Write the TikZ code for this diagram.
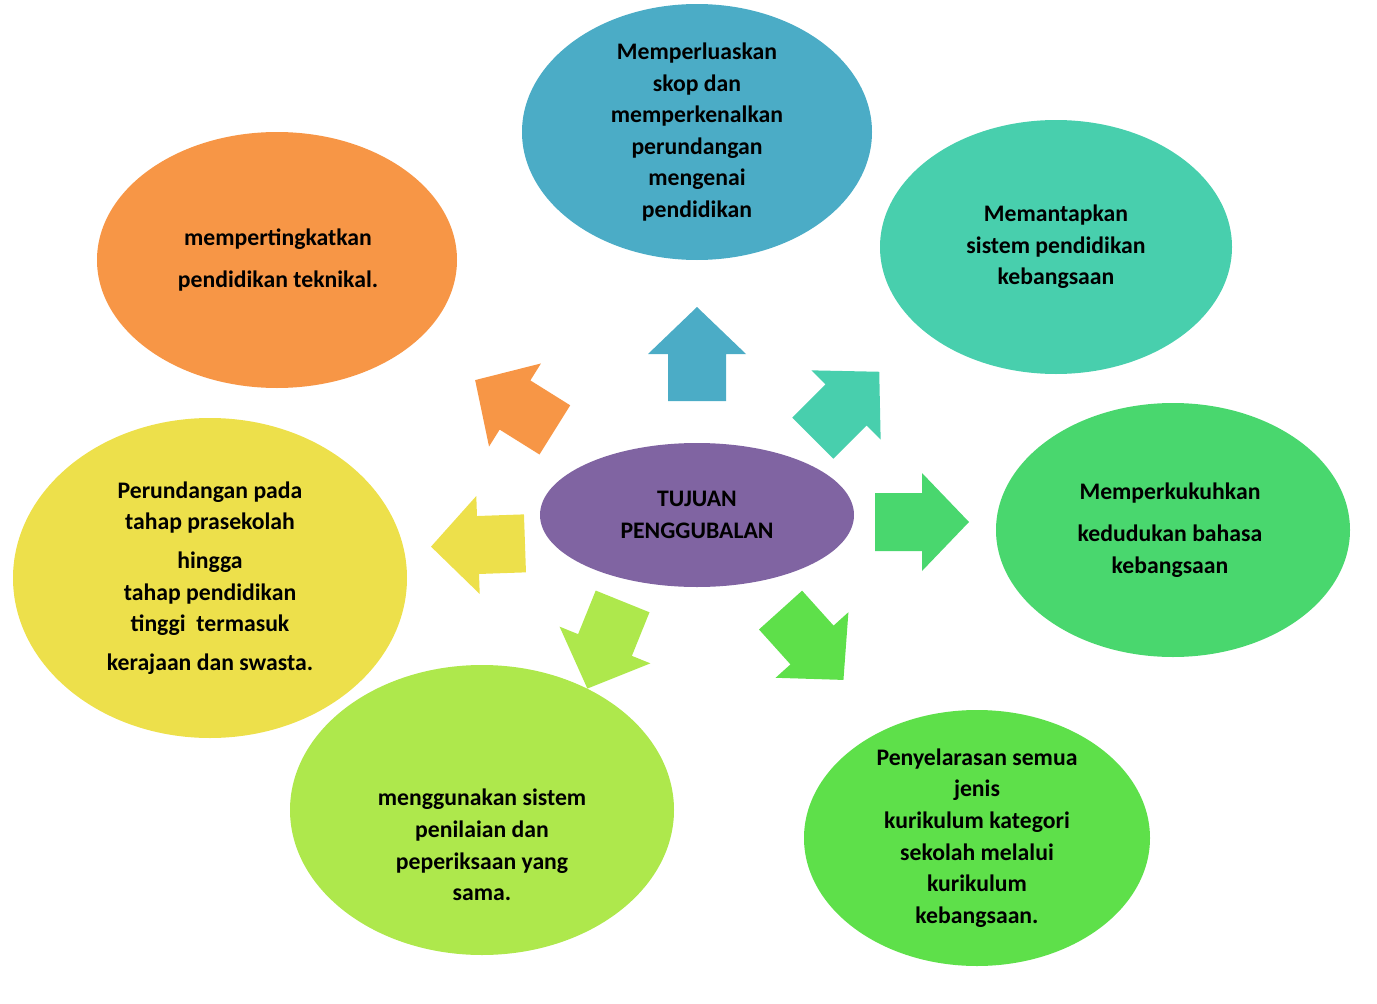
\documentclass[tikz,border=0pt]{standalone}
\usepackage{fontspec}
\setmainfont{Carlito}
\begin{document}
\begin{tikzpicture}[x=0.02cm,y=0.02cm,
 ell/.style={ellipse,draw=none},
 txt/.style={align=center,font=\bfseries\fontsize{13.5}{18}\selectfont,text=black}]
\useasboundingbox (0,0) rectangle (1377,-1004);
\definecolor{cblue}{HTML}{4BACC6}
\definecolor{corange}{HTML}{F79646}
\definecolor{cteal}{HTML}{48CFAD}
\definecolor{cgreen}{HTML}{49D76E}
\definecolor{cyellow}{HTML}{EDE04B}
\definecolor{clime}{HTML}{AEE84C}
\definecolor{cgreen2}{HTML}{5EE04A}
\definecolor{cpurple}{HTML}{8064A2}
\newcommand{\blockarrow}[4]{\begin{scope}[shift={(#1,#2)},rotate=#3]
 \fill[#4] (-47,-29) -- (0,-29) -- (0,-49) -- (47,0) -- (0,49) -- (0,29) -- (-47,29) -- cycle;
\end{scope}}
\fill[cblue] (697,-132) ellipse [x radius=175,y radius=128];
\fill[corange] (277,-260) ellipse [x radius=180,y radius=128];
\fill[cteal] (1056,-247) ellipse [x radius=176,y radius=127];
\fill[cgreen] (1173,-530) ellipse [x radius=177,y radius=127];
\fill[cyellow] (210,-578) ellipse [x radius=197,y radius=160];
\fill[clime] (482,-810) ellipse [x radius=192,y radius=145];
\fill[cgreen2] (977,-838) ellipse [x radius=173,y radius=128];
\fill[cpurple] (697,-515) ellipse [x radius=157,y radius=72];
\blockarrow{697}{-354}{90}{cblue}
\blockarrow{846}{-405}{45}{cteal}
\blockarrow{922}{-522}{0}{cgreen}
\blockarrow{812}{-645}{-48}{cgreen2}
\blockarrow{605}{-645}{-112}{clime}
\blockarrow{478}{-545}{182}{cyellow}
\blockarrow{515}{-405}{148}{corange}
\node[txt] (t1) at (697,-132) {Memperluaskan\\skop dan\\memperkenalkan\\perundangan\\mengenai\\pendidikan};
\node[txt] (t2) at (278,-260) {mempertingkatkan\\[6pt]pendidikan teknikal.};
\node[txt] (t3) at (1056,-247) {Memantapkan\\sistem pendidikan\\kebangsaan};
\node[txt] (t4) at (1170,-530) {Memperkukuhkan\\[6pt]kedudukan bahasa\\kebangsaan};
\node[txt] (t5) at (210,-578) {Perundangan pada\\tahap prasekolah\\[4pt]hingga\\tahap pendidikan\\tinggi\ \ termasuk\\[4pt]kerajaan dan swasta.};
\node[txt] (t6) at (482,-845) {menggunakan sistem\\penilaian dan\\peperiksaan yang\\sama.};
\node[txt] (t7) at (977,-838) {Penyelarasan semua\\jenis\\kurikulum kategori\\sekolah melalui\\kurikulum\\kebangsaan.};
\node[txt] (t8) at (697,-515) {TUJUAN\\PENGGUBALAN};
\end{tikzpicture}
\end{document}
